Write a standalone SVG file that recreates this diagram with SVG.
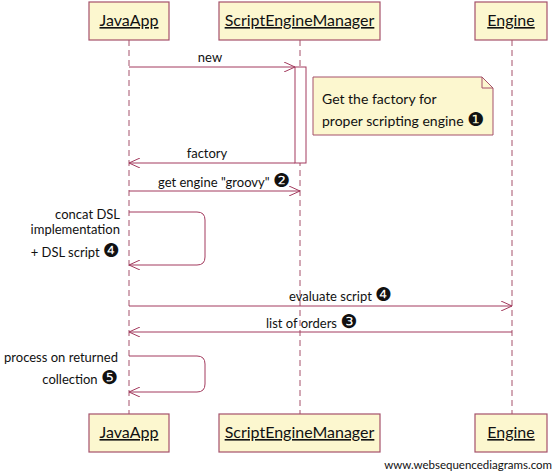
<svg xmlns="http://www.w3.org/2000/svg" width="558" height="473" viewBox="0 0 558 473">
<style>
text{font-family:Lato,"Open Sans","DejaVu Sans",sans-serif;fill:#111;}
.box{fill:#fcf7cf;stroke:#a5506a;stroke-width:1.2;}
.lbl{font-size:16px;text-decoration:underline;text-anchor:middle;}
.life{stroke:#a5506a;stroke-width:1;stroke-dasharray:6,4;fill:none;}
.msg{stroke:#a33b5e;stroke-width:1;fill:none;}
.t{font-size:13px;}
.n{font-family:"DejaVu Sans",sans-serif;font-size:19px;}
</style>
<defs>
<marker id="ah" markerWidth="12" markerHeight="10" refX="11" refY="5" orient="auto" markerUnits="userSpaceOnUse">
<path d="M0,0 L11,5 L0,10" fill="none" stroke="#a33b5e" stroke-width="1"/>
</marker>
</defs>
<g id="lifelines">
<line class="life" x1="129" y1="40" x2="129" y2="414"/>
<line class="life" x1="300" y1="40" x2="300" y2="414"/>
<line class="life" x1="512" y1="40" x2="512" y2="414"/>
</g>
<g id="JavaApp">
<rect class="box" x="89" y="2" width="80" height="38"/>
<text class="lbl" x="129" y="26">JavaApp</text>
</g>
<g id="ScriptEngineManager">
<rect class="box" x="219" y="2" width="161" height="38"/>
<text class="lbl" x="299.5" y="26">ScriptEngineManager</text>
</g>
<g id="Engine">
<rect class="box" x="475" y="2" width="72" height="38"/>
<text class="lbl" x="511" y="26">Engine</text>
</g>
<g id="JavaApp-bottom">
<rect class="box" x="89" y="414" width="80" height="38"/>
<text class="lbl" x="129" y="438">JavaApp</text>
</g>
<g id="ScriptEngineManager-bottom">
<rect class="box" x="219" y="414" width="161" height="38"/>
<text class="lbl" x="299.5" y="438">ScriptEngineManager</text>
</g>
<g id="Engine-bottom">
<rect class="box" x="475" y="414" width="72" height="38"/>
<text class="lbl" x="511" y="438">Engine</text>
</g>
<g id="activation">
<rect x="295" y="67" width="11" height="96" fill="#fff" stroke="#a33b5e" stroke-width="1"/>
</g>
<g id="note">
<path d="M313,77 H482 L493,88 V135 H313 Z" fill="#fcf7cf" stroke="#a5506a" stroke-width="1"/>
<path d="M482,77 V88 H493" fill="none" stroke="#a5506a" stroke-width="1"/>
<text x="322" y="104" font-size="14">Get the factory for</text>
<text x="322" y="126" font-size="14">proper scripting engine <tspan class="n" font-size="20">❶</tspan></text>
</g>
<g id="connectors">
<line class="msg" x1="129" y1="67" x2="295" y2="67" marker-end="url(#ah)"/>
<line class="msg" x1="295" y1="163" x2="129" y2="163" marker-end="url(#ah)"/>
<line class="msg" x1="129" y1="191" x2="300" y2="191" marker-end="url(#ah)"/>
<path class="msg" d="M129,212 H197 Q205,212 205,220 V257 Q205,265 197,265 H129" marker-end="url(#ah)"/>
<line class="msg" x1="129" y1="306" x2="512" y2="306" marker-end="url(#ah)"/>
<line class="msg" x1="512" y1="332" x2="129" y2="332" marker-end="url(#ah)"/>
<path class="msg" d="M129,356 H197 Q205,356 205,364 V384 Q205,392 197,392 H129" marker-end="url(#ah)"/>
</g>
<g id="labels">
<text class="t" x="210" y="62" text-anchor="middle">new</text>
<text class="t" x="207" y="158" text-anchor="middle">factory</text>
<text class="t" x="158" y="187">get engine "groovy" <tspan class="n">❷</tspan></text>
<text class="t" x="120" y="219" text-anchor="end">concat DSL</text>
<text class="t" x="120" y="234" text-anchor="end">implementation</text>
<text class="t" x="120" y="257" text-anchor="end">+ DSL script <tspan class="n">❹</tspan></text>
<text class="t" x="289" y="301">evaluate script <tspan class="n">❹</tspan></text>
<text class="t" x="266" y="328">list of orders <tspan class="n">❸</tspan></text>
<text class="t" x="118" y="362" text-anchor="end">process on returned</text>
<text class="t" x="118" y="384" text-anchor="end">collection <tspan class="n">❺</tspan></text>
</g>
<text x="552" y="469" font-size="11.5" text-anchor="end">www.websequencediagrams.com</text>
</svg>
